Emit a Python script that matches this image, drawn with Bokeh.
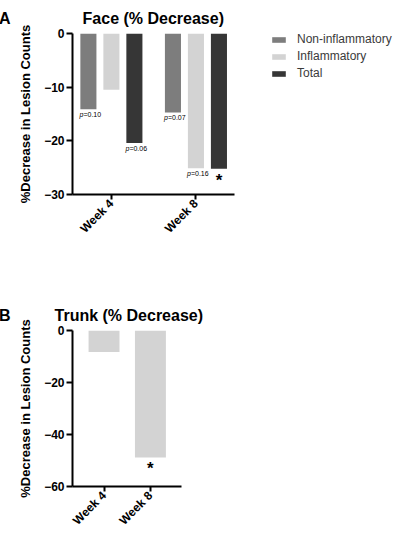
import numpy as np

from bokeh.plotting import figure
from bokeh.models import ColumnDataSource, Range1d, FixedTicker, Legend, LegendItem
from bokeh.core.properties import value
from bokeh.transform import dodge
from bokeh.embed import file_html
from bokeh.resources import INLINE

FONT = "Liberation Sans"
EM, EN, QS = "\u2003", "\u2002", "\u2005"

weeks = ["Week 4", "Week 8"]

# Face panel (% decrease in lesion counts)
face_non_inflammatory = [-14.1, -14.7]
face_inflammatory = [-10.5, -25.1]
face_total = [-20.4, -25.2]
face_p_non_inflammatory = ["=0.10", "=0.07"]
face_p_inflammatory = ["", "=0.16"]
face_p_total = ["=0.06", ""]
face_star_total = ["", "*"]
face_yticks = [0, -10, -20, -30]

# Trunk panel
trunk_inflammatory = [-8.3, -48.8]
trunk_star = ["", "*"]
trunk_yticks = [0, -20, -40, -60]

colors = {"Non-inflammatory": "#7d7d7d", "Inflammatory": "#d3d3d3", "Total": "#363636"}


def style_axes(p, yticks):
    p.xaxis.ticker = FixedTicker(ticks=list(range(len(weeks))))
    p.xaxis.major_label_overrides = {i: w for i, w in enumerate(weeks)}
    p.xaxis.major_label_orientation = np.pi / 4
    p.yaxis.ticker = FixedTicker(ticks=yticks)
    for ax in (p.xaxis, p.yaxis):
        ax.axis_line_width = 2
        ax.axis_line_color = "black"
        ax.major_tick_line_width = 2
        ax.major_tick_line_color = "black"
        ax.major_tick_in = 0
        ax.major_tick_out = 6
        ax.minor_tick_line_color = None
        ax.major_label_text_font = FONT
        ax.major_label_text_font_style = "bold"
        ax.major_label_text_font_size = "12px"
        ax.major_label_text_color = "black"
        ax.major_label_standoff = 2
    p.xaxis.major_tick_out = 5
    p.yaxis.axis_label = "%Decrease in Lesion Counts"
    p.yaxis.axis_label_text_font = FONT
    p.yaxis.axis_label_text_font_style = "bold"
    p.yaxis.axis_label_text_font_size = "13px"
    p.yaxis.axis_label_text_color = "black"
    p.yaxis.axis_label_standoff = 8
    p.grid.grid_line_color = None
    p.outline_line_color = None
    p.title.align = "center"
    p.title.text_font = FONT
    p.title.text_font_style = "bold"
    p.title.text_font_size = "16px"
    p.title.text_color = "black"
    p.title.standoff = 14


def p_labels(p, src, xoff, yoff):
    p.text(x=dodge("x", xoff, range=p.x_range), y="val", text="pv_p", source=src,
           text_font=value(FONT), text_font_style="italic", text_font_size="7px",
           text_align="right", text_baseline="top", x_offset=-5, y_offset=yoff, text_color="black")
    p.text(x=dodge("x", xoff, range=p.x_range), y="val", text="pv", source=src,
           text_font=value(FONT), text_font_size="7px",
           text_align="left", text_baseline="top", x_offset=-5, y_offset=yoff, text_color="black")


# ---------------- Panel A: Face ----------------
title_a = "A" + EM * 4 + EN + "Face (% Decrease)" + EM * 5 + QS
pa = figure(frame_width=162, frame_height=161, title=title_a,
            x_range=Range1d(-0.46, 1.456), y_range=Range1d(-30, 0),
            toolbar_location=None, output_backend="svg",
            min_border_left=72, min_border_right=162, min_border_top=31, min_border_bottom=88)
style_axes(pa, face_yticks)

idx = list(range(len(weeks)))
series = {
    "Non-inflammatory": (face_non_inflammatory, face_p_non_inflammatory, -0.272),
    "Inflammatory": (face_inflammatory, face_p_inflammatory, 0.0),
    "Total": (face_total, face_p_total, 0.272),
}
items = []
for name, (vals, pvals, off) in series.items():
    s = ColumnDataSource(dict(x=idx, val=vals, pv=pvals, pv_p=["p" if v else "" for v in pvals]))
    r = pa.vbar(x=dodge("x", off, range=pa.x_range), top=0, bottom="val", width=0.19,
                source=s, fill_color=colors[name], line_color=None)
    items.append(LegendItem(label=name, renderers=[r]))
    p_labels(pa, s, off, 2)

src_star = ColumnDataSource(dict(x=idx, val=face_total, star=face_star_total))
pa.text(x=dodge("x", 0.272, range=pa.x_range), y="val", text="star", source=src_star,
        text_font=value(FONT), text_font_style="bold", text_font_size="17px",
        text_align="center", text_baseline="top", y_offset=2, text_color="black")

legend = Legend(items=items, location=(36, 114), border_line_color=None,
                background_fill_alpha=0, padding=0, margin=0,
                glyph_width=17, glyph_height=7, label_height=14, spacing=3,
                label_standoff=10, label_text_font=FONT, label_text_font_size="12px",
                label_text_color="#3a3a3a")
pa.add_layout(legend, "right")

# ---------------- Panel B: Trunk ----------------
title_b = "B" + EM * 2 + EN + QS + "Trunk (% Decrease)" + EM * 3 + QS
pb = figure(frame_width=109, frame_height=156, title=title_b,
            x_range=Range1d(-0.68, 1.67), y_range=Range1d(-60, 0),
            toolbar_location=None, output_backend="svg",
            min_border_left=72, min_border_right=215, min_border_top=48, min_border_bottom=40)
style_axes(pb, trunk_yticks)

src_b = ColumnDataSource(dict(x=idx, val=trunk_inflammatory, star=trunk_star))
pb.vbar(x="x", top=0, bottom="val", width=0.667, source=src_b,
        fill_color=colors["Inflammatory"], line_color=None)
pb.text(x="x", y="val", text="star", source=src_b,
        text_font=value(FONT), text_font_style="bold", text_font_size="17px",
        text_align="center", text_baseline="top", y_offset=2, text_color="black")

open("out.html", "w").write(file_html([pa, pb], INLINE))
